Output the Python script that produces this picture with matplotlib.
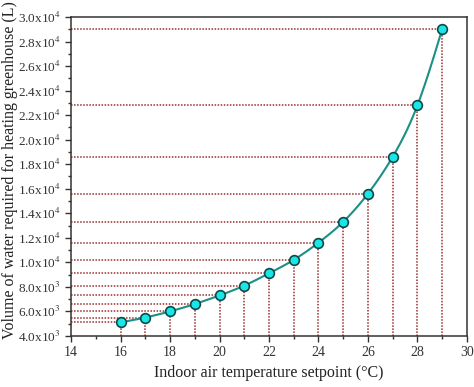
import numpy as np
import matplotlib
matplotlib.use("Agg")
import matplotlib.pyplot as plt
from matplotlib.ticker import MultipleLocator, FuncFormatter

# Data
temps = [16, 17, 18, 19, 20, 21, 22, 23, 24, 25, 26, 27, 28, 29]
volumes = [5100, 5500, 6000, 6600, 7300, 8100, 9100, 10200, 11600, 13300,
           15600, 18600, 22800, 29000]

plt.rcParams['font.family'] = ['Liberation Serif', 'DejaVu Serif']
plt.rcParams['mathtext.fontset'] = 'stix'


def natural_spline(x, y, xs):
    x = np.asarray(x, float); y = np.asarray(y, float)
    n = len(x)
    h = np.diff(x)
    A = np.zeros((n, n)); b = np.zeros(n)
    A[0, 0] = 1; A[-1, -1] = 1
    for i in range(1, n - 1):
        A[i, i - 1] = h[i - 1]
        A[i, i] = 2 * (h[i - 1] + h[i])
        A[i, i + 1] = h[i]
        b[i] = 3 * ((y[i + 1] - y[i]) / h[i] - (y[i] - y[i - 1]) / h[i - 1])
    c = np.linalg.solve(A, b)
    out = np.empty_like(xs)
    for k, xv in enumerate(xs):
        i = min(max(np.searchsorted(x, xv) - 1, 0), n - 2)
        dx = xv - x[i]
        bi = (y[i + 1] - y[i]) / h[i] - h[i] * (2 * c[i] + c[i + 1]) / 3
        di = (c[i + 1] - c[i]) / (3 * h[i])
        out[k] = y[i] + bi * dx + c[i] * dx ** 2 + di * dx ** 3
    return out


fig = plt.figure(figsize=(4.74, 3.87), dpi=100)
ax = fig.add_axes([0.150, 0.132, 0.835, 0.824])

xmin, xmax = 14, 30
ymin, ymax = 4000, 30000
ax.set_xlim(xmin, xmax)
ax.set_ylim(ymin, ymax)

guide_color = '#9b2d2d'
for t, v in zip(temps, volumes):
    ax.plot([xmin, t], [v, v], linestyle=(0, (1, 1)), color=guide_color, lw=1.1, zorder=1)
    ax.plot([t, t], [ymin, v], linestyle=(0, (1, 1)), color=guide_color, lw=1.1, zorder=1)

xs = np.linspace(temps[0], temps[-1], 300)
ax.plot(xs, natural_spline(temps, volumes, xs), color='#1c9084', lw=1.5, zorder=2)
ax.plot(temps, volumes, 'o', ms=7, mfc='#19e6e6', mec='#104848', mew=1.2, zorder=3)

ax.xaxis.set_major_locator(MultipleLocator(2))
ax.xaxis.set_minor_locator(MultipleLocator(1))
ax.yaxis.set_major_locator(MultipleLocator(2000))
ax.yaxis.set_minor_locator(MultipleLocator(1000))


def fmt(v, pos):
    e = int(np.floor(np.log10(v)))
    m = v / 10 ** e
    return r'%.1fx10$^{%d}$' % (m, e)


ax.yaxis.set_major_formatter(FuncFormatter(fmt))
ax.tick_params(which='major', direction='out', length=4, width=1, labelsize=9.5, colors='#333333')
ax.tick_params(axis='x', which='major', labelsize=10)
ax.tick_params(which='minor', direction='out', length=2.5, width=1, colors='#333333')
for s in ax.spines.values():
    s.set_color('#333333')
    s.set_linewidth(1.1)

ax.set_xlabel('Indoor air temperature setpoint (°C)', fontsize=11.5, color='#222222')
ax.set_ylabel('Volume of water required for heating greenhouse (L)', fontsize=11.5,
              color='#222222')
ax.yaxis.set_label_coords(-0.133, 0.52)

fig.savefig('out.png', dpi=100)
